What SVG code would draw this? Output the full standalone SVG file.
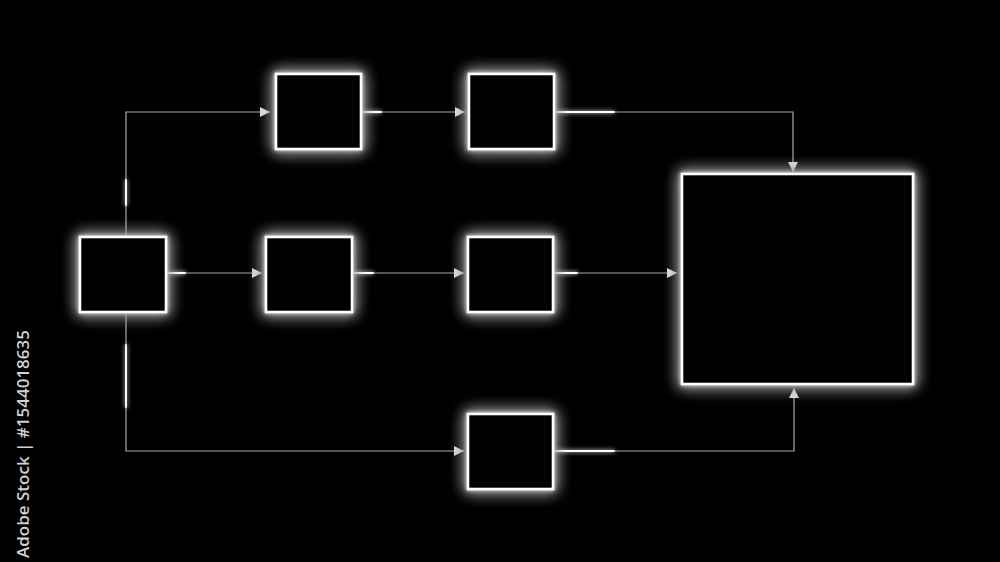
<svg xmlns="http://www.w3.org/2000/svg" width="1000" height="562" viewBox="0 0 1000 562">
<defs>
<style>
.box{fill:#000;stroke:#fff;stroke-width:2.6;filter:url(#glow)}
.ln{fill:none;stroke:#a8a8a8;stroke-width:1.2}
.spark{fill:none;stroke:#fff;stroke-width:1.8;stroke-linecap:round;filter:url(#sglow)}
.id{font-family:"Open Sans","DejaVu Sans",sans-serif;font-size:17px;font-weight:600;fill:#cfcfcf}
</style>
<filter id="glow" x="-30%" y="-30%" width="160%" height="160%">
<feGaussianBlur in="SourceGraphic" stdDeviation="8" result="b1"/>
<feGaussianBlur in="SourceGraphic" stdDeviation="2" result="b2"/>
<feMerge><feMergeNode in="b1"/><feMergeNode in="b1"/><feMergeNode in="b2"/><feMergeNode in="SourceGraphic"/></feMerge>
</filter>
<filter id="sglow" filterUnits="userSpaceOnUse" x="0" y="0" width="1000" height="562">
<feGaussianBlur in="SourceGraphic" stdDeviation="2" result="b"/>
<feMerge><feMergeNode in="b"/><feMergeNode in="SourceGraphic"/></feMerge>
</filter>
<marker id="arr" viewBox="0 0 10 10" refX="10" refY="5" markerWidth="10" markerHeight="10" markerUnits="userSpaceOnUse" orient="auto">
<path d="M0,0 L10,5 L0,10 Z" fill="#d8d8d8"/>
</marker>
</defs>
<rect width="1000" height="562" fill="#000"/>
<g id="connectors">
<path class="ln" d="M126,237 V112 H270" marker-end="url(#arr)"/>
<path class="ln" d="M166,273 H262" marker-end="url(#arr)"/>
<path class="ln" d="M361,112 H465" marker-end="url(#arr)"/>
<path class="ln" d="M352,273 H464" marker-end="url(#arr)"/>
<path class="ln" d="M554,112 H793 V172" marker-end="url(#arr)"/>
<path class="ln" d="M553,273 H677" marker-end="url(#arr)"/>
<path class="ln" d="M126,312 V451 H464" marker-end="url(#arr)"/>
<path class="ln" d="M553,451 H794 V388" marker-end="url(#arr)"/>
<path class="spark" d="M126,180 V205"/>
<path class="spark" d="M126,345 V407"/>
<path class="spark" d="M168,273 H185"/>
<path class="spark" d="M363,112 H381"/>
<path class="spark" d="M354,273 H373"/>
<path class="spark" d="M556,112 H614"/>
<path class="spark" d="M555,273 H577"/>
<path class="spark" d="M555,451 H614"/>
</g>
<g id="nodeA"><rect class="box" x="80" y="237" width="86" height="75"/></g>
<g id="nodeB"><rect class="box" x="276" y="74" width="85" height="75"/></g>
<g id="nodeC"><rect class="box" x="266" y="237" width="86" height="75"/></g>
<g id="nodeD"><rect class="box" x="469" y="74" width="85" height="75"/></g>
<g id="nodeE"><rect class="box" x="468" y="237" width="85" height="75"/></g>
<g id="nodeF"><rect class="box" x="468" y="414" width="85" height="75"/></g>
<g id="nodeG"><rect class="box" x="682" y="174" width="231" height="210"/></g>
<text class="id" transform="translate(29,558) rotate(-90)">Adobe Stock | #1544018635</text>
</svg>
